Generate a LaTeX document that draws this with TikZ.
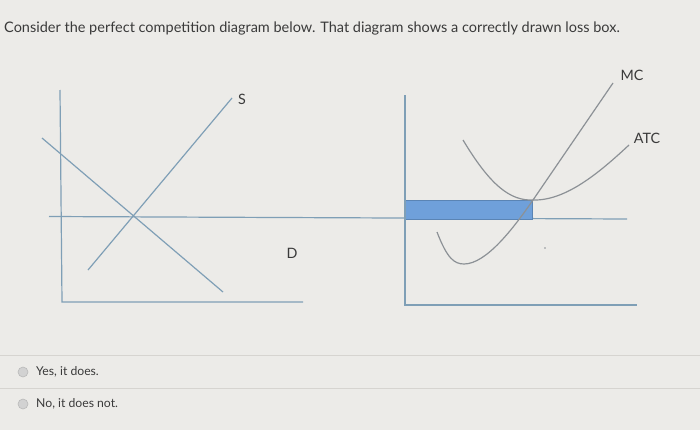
\documentclass[tikz,border=0pt]{standalone}
\usepackage{fontspec}
\setmainfont{Lato}
\definecolor{bg}{HTML}{ECEBE8}
\definecolor{axisc}{HTML}{7F9FB6}
\definecolor{curvec}{HTML}{8C9196}
\definecolor{boxfill}{HTML}{6FA0DA}
\definecolor{boxline}{HTML}{5A84B4}
\definecolor{txt}{HTML}{3A3A3A}
\definecolor{sepc}{HTML}{D6D4D0}
\begin{document}
\begin{tikzpicture}[x=1pt,y=-1pt,
  axis/.style={draw=axisc,line width=1.2pt},
  curve/.style={draw=curvec,line width=1.2pt},
  lbl/.style={font=\fontsize{14.3}{16}\selectfont,text=txt,inner sep=0pt},
  answer/.style={font=\fontsize{12.2}{14}\selectfont,text=txt,inner sep=0pt,anchor=west},
  radio/.style={circle,draw=gray!55,fill=gray!35,line width=0.6pt,minimum size=10pt,inner sep=0pt},
  sep/.style={draw=sepc,line width=0.8pt}]
\fill[bg] (0,0) rectangle (700,436);
\fill[white] (0,430) rectangle (700,436);
\useasboundingbox (0,0) rectangle (700,436);

\node[font=\fontsize{14.5}{16}\selectfont,text=txt,anchor=west,inner sep=0pt] (title) at (4,28) {Consider the perfect competition diagram below. That diagram shows a correctly drawn loss box.};

% left graph
\coordinate (lyt) at (60,90);
\coordinate (lo) at (62,302);
\coordinate (lxr) at (303,302);
\path[axis] (lyt) -- (lo) -- (lxr);
\coordinate (d1) at (42,138);
\coordinate (d2) at (223,292);
\coordinate (s1) at (88,270);
\coordinate (s2) at (232,98);
\path[axis] (d1) -- (d2);
\path[axis] (s1) -- (s2);
\coordinate (p1) at (49,216.5);
\coordinate (p2) at (627,219);
\path[axis] (p1) -- (p2);
\node[lbl] (S) at (242,99) {S};
\node[lbl] (D) at (292,253) {D};

% right graph
\coordinate (ryt) at (405,95);
\coordinate (ro) at (405,305);
\coordinate (rxr) at (637,305);
\coordinate (b1) at (405,200);
\coordinate (b2) at (532.7,219);
\path[fill=boxfill,draw=boxline,line width=0.8pt] (b1) rectangle (b2);
\path[axis] (ryt) -- (ro) -- (rxr);
\coordinate (mc0) at (437,232);
\coordinate (mcmin) at (464,264);
\coordinate (mcx) at (533,200);
\coordinate (mc1) at (613,83);
\path[curve] (mc0) .. controls (447,258) and (454,264) .. (mcmin) .. controls (486,264) and (513,229) .. (mcx) -- (mc1);
\coordinate (atc0) at (463,140);
\coordinate (atc1) at (629,145);
\path[curve] (atc0) .. controls (490,185) and (510,201) .. (mcx) .. controls (566,201) and (600,172) .. (atc1);
\node[lbl] (MC) at (632,75) {MC};
\node[lbl] (ATC) at (647,138) {ATC};
\fill[curvec] (545,248) circle (0.9pt);

% answers
\coordinate (sa1) at (0,355);
\coordinate (sa2) at (700,355);
\coordinate (sb1) at (0,388.5);
\coordinate (sb2) at (700,388.5);
\path[sep] (sa1) -- (sa2);
\path[sep] (sb1) -- (sb2);
\node[radio] (r1) at (23,372) {};
\node[radio] (r2) at (23,404) {};
\node[answer] (a1) at (36,372) {Yes, it does.};
\node[answer] (a2) at (36,404) {No, it does not.};
\end{tikzpicture}
\end{document}
